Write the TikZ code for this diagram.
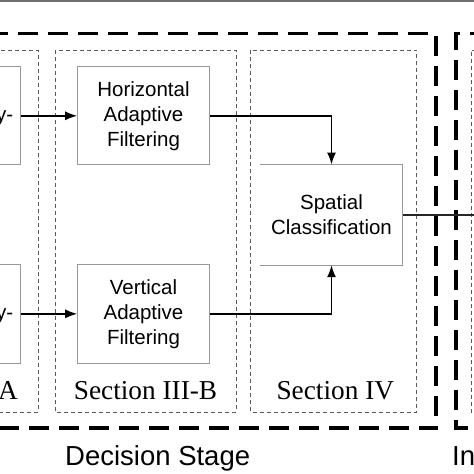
\documentclass[tikz,border=0pt]{standalone}
\usepackage{fontspec}
\setmainfont{Liberation Serif}
\setsansfont{Liberation Sans}
\usetikzlibrary{arrows.meta}
\tikzset{
  bigdash/.style={draw=black, line width=3.5pt, dash pattern=on 20pt off 10pt},
  secbox/.style={draw=black!65, line width=0.9pt, dash pattern=on 4pt off 3pt},
  procbox/.style={draw=black!40, line width=1pt, minimum width=131.6pt, minimum height=98.3pt,
    inner sep=0pt, font=\sffamily\fontsize{20.5}{25}\selectfont, align=center},
  conn/.style={line width=1.5pt, -{Latex[length=12pt,width=9pt]}},
  plainline/.style={line width=1.5pt, draw=black!85},
  seclabel/.style={inner sep=0pt, font=\fontsize{27.3}{30}\selectfont},
  stagelabel/.style={inner sep=0pt, font=\sffamily\fontsize{27.5}{30}\selectfont},
  frag/.style={inner sep=0pt, font=\sffamily\fontsize{20.5}{25}\selectfont}
}
\begin{document}
\begin{tikzpicture}[x=1pt,y=-1pt]
\useasboundingbox (0,0) rectangle (474,474);
\clip (0,0) rectangle (474,474);
\fill[white] (0,0) rectangle (474,474);
% top gray bar
\fill[black!57] (0,0) rectangle (474,2);

% stage boxes
\draw[bigdash] (-12,33.5) -- (436,33.5) -- (436,428) -- (-12,428);
\draw[bigdash] (490,33.5) -- (456,33.5) -- (456,428) -- (490,428);

% section boxes
\draw[secbox] (-10,50) rectangle (38,412);
\draw[secbox] (55,50) rectangle (236,412);
\draw[secbox] (250.7,50) rectangle (416.7,412);
\draw[secbox] (490,50) -- (471,50) -- (471,412) -- (490,412);

% process boxes
\node[procbox] (leftA) at (-45.8,115.8) {};
\node[procbox] (leftB) at (-45.8,313.85) {};
\node[frag, anchor=base east] (fragA) at (13.5,121.7) {y-};
\node[frag, anchor=base east] (fragB) at (13.5,319.7) {y-};

\node[procbox] (haf) at (143.5,115.8) {Horizontal\\Adaptive\\Filtering};
\node[procbox] (vaf) at (143.5,313.85) {Vertical\\Adaptive\\Filtering};

\node[procbox, draw=none, minimum width=141.6pt, minimum height=99.7pt] (spatial) at (331.5,214.85) {Spatial\\Classification};
\draw[draw=black!40, line width=1pt] (spatial.north west) -- (spatial.north east) -- (spatial.south east) -- (spatial.south west);

\coordinate (out) at (480,214.85);

% connectors
\draw[conn] (leftA.east) -- (haf.west);
\draw[conn] (leftB.east) -- (vaf.west);
\draw[conn] (haf.east) -| (spatial.north);
\draw[conn] (vaf.east) -| (spatial.south);
\draw[plainline] (spatial.east) -- (out);

% labels
\node[seclabel, anchor=base east] (secA) at (18,399) {A};
\node[seclabel, anchor=base] (secB) at (145.5,399) {Section III-B};
\node[seclabel, anchor=base] (secIV) at (335.3,399) {Section IV};
\node[stagelabel, anchor=base west] (dec) at (65,465) {Decision Stage};
\node[stagelabel, anchor=base west] (inf) at (452,465) {In};
\end{tikzpicture}
\end{document}
